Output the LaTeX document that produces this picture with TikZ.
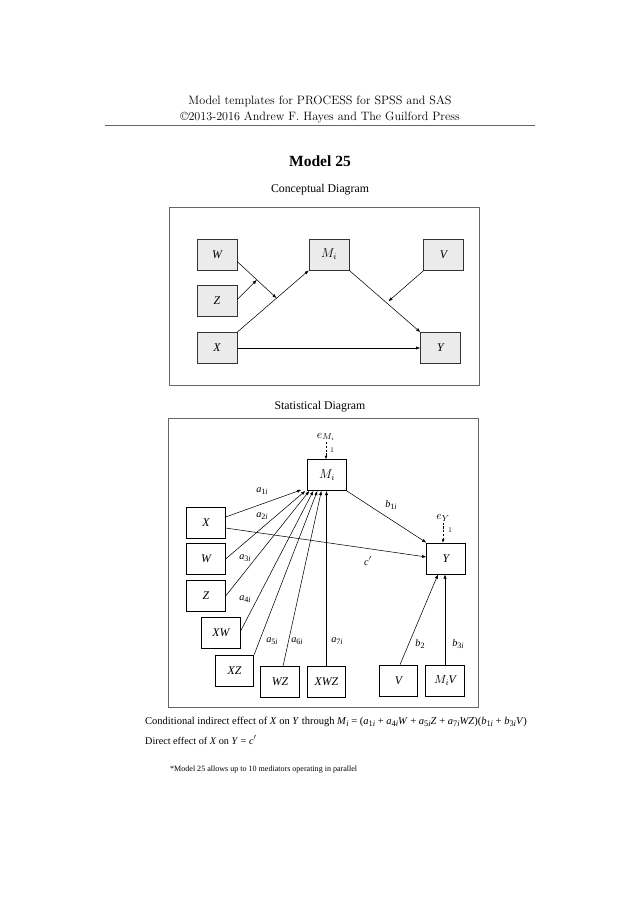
\documentclass[tikz,border=0pt]{standalone}
\usepackage{fontspec}
\usepackage{graphicx}
\newfontfamily\tnr{Liberation Serif}
\usetikzlibrary{arrows.meta,calc}
\newcommand{\iv}[2]{\textit{#1}\raisebox{-0.35ex}{\scalebox{0.8}{#2}}}
\begin{document}
\begin{tikzpicture}[x=0.9326pt,y=-0.9326pt,
  cbox/.style={draw=black!80,fill=black!8,line width=0.6pt,minimum width=37pt,minimum height=28.9pt,inner sep=0pt,font=\tnr\fontsize{11}{12}\selectfont\itshape},
  sbox/.style={draw=black,fill=white,line width=0.6pt,minimum width=36pt,minimum height=28.9pt,inner sep=0pt,font=\tnr\fontsize{11}{12}\selectfont\itshape},
  arr/.style={-{Latex[length=4pt,width=3pt]},line width=0.5pt},
  darr/.style={-{Latex[length=3pt,width=2.5pt]},line width=0.5pt,dash pattern=on 2pt off 1.5pt},
  lab/.style={font=\tnr\fontsize{9.5}{10}\selectfont,inner sep=0pt},
  frame/.style={draw=black!60,line width=0.6pt}]
\useasboundingbox (0,0) rectangle (638,902);
\fill[white] (0,0) rectangle (638,902);
% header
\node[font=\fontsize{11.3}{13}\selectfont,inner sep=0pt] (h1) at (320,101) {Model templates for PROCESS for SPSS and SAS};
\node[font=\fontsize{11.3}{13}\selectfont,inner sep=0pt] (h2) at (320,117) {\textcopyright 2013-2016 Andrew F. Hayes and The Guilford Press};
\draw[black!60,line width=0.5pt] (105,125) -- (535,125);
\node[font=\tnr\bfseries\fontsize{14.5}{17}\selectfont,inner sep=0pt] (title) at (320,161) {Model 25};
\node[font=\tnr\fontsize{11}{13}\selectfont,inner sep=0pt] (ctitle) at (320,190) {Conceptual Diagram};
% conceptual diagram
\draw[frame] (169,207) rectangle (479,385);
\node[cbox] (cW) at (217,254.5) {W};
\node[cbox] (cZ) at (217,300.5) {Z};
\node[cbox] (cX) at (217,348) {X};
\node[cbox,font=\fontsize{12}{13}\selectfont] (cM) at (329,254.5) {$M_i$};
\node[cbox] (cV) at (443.5,255) {V};
\node[cbox] (cY) at (440.5,348) {Y};
\draw[arr] (cX.north east) -- (cM.south west);
\coordinate (pXM) at ($(cX.north east)!0.55!(cM.south west)$);
\draw[arr] ($(cW.east)+(0,7)$) coordinate (wst) -- (pXM);
\coordinate (pW) at ($(wst)!0.5!(pXM)$);
\draw[arr] ($(cZ.east)+(0,-1)$) -- (pW);
\draw[arr] (cM.south east) -- (cY.north west);
\coordinate (pMY) at ($(cM.south east)!0.55!(cY.north west)$);
\draw[arr] (cV.south west) -- ($(pMY)+(0,-3)$);
\draw[arr] (cX.east) -- (cY.west);
% statistical diagram
\node[font=\tnr\fontsize{11}{13}\selectfont,inner sep=0pt] (stitle) at (320,407) {Statistical Diagram};
\draw[frame] (168,418) rectangle (478,707);
\node[sbox,font=\fontsize{12}{13}\selectfont] (sM) at (327,475) {$M_i$};
\node[sbox] (sX) at (206,523) {X};
\node[sbox] (sW) at (206,559) {W};
\node[sbox] (sZ) at (206,596) {Z};
\node[sbox] (sXW) at (221,633) {XW};
\node[sbox] (sXZ) at (234.5,670.5) {XZ};
\node[sbox] (sWZ) at (280,682) {WZ};
\node[sbox] (sXWZ) at (326.5,682) {XWZ};
\node[sbox] (sV) at (398.5,680.5) {V};
\node[sbox] (sMV) at (445,680.5) {$M_i$\kern-0.5pt V};
\node[sbox] (sY) at (446,558.5) {Y};
\node[font=\fontsize{11}{12}\selectfont,inner sep=0pt] (eM) at (326,437) {$e_{M_i}$};
\node[font=\fontsize{11}{12}\selectfont,inner sep=0pt] (eY) at (443,518) {$e_Y$};
\draw[darr] ($(eM.south)+(0,1)$) -- (eM.south |- sM.north);
\draw[darr] ($(eY.south)+(0,1)$) -- (eY.south |- sY.north);
\node[font=\fontsize{6.5}{7}\selectfont,inner sep=0pt] (oneM) at (332,450) {1};
\node[font=\fontsize{6.5}{7}\selectfont,inner sep=0pt] (oneY) at (450,530) {1};
% arrows into M
\coordinate (t1) at ($(sM.south west)+(-6,-1)$);
\coordinate (t2) at ($(sM.south west)+(-2,0)$);
\coordinate (t3) at ($(sM.south west)+(2,0)$);
\coordinate (t4) at ($(sM.south west)+(6,0)$);
\coordinate (t5) at ($(sM.south west)+(10,0)$);
\coordinate (t6) at ($(sM.south west)+(14,0)$);
\coordinate (t7) at ($(sM.south west)+(18,0)$);
\draw[arr] ($(sX.east)+(0,-6)$) -- (t1);
\draw[arr] (sW.east) -- (t2);
\draw[arr] (sZ.east) -- (t3);
\draw[arr] ($(sXW.east)+(0,-2)$) -- (t4);
\draw[arr] (sXZ.north east) -- (t5);
\draw[arr] ($(sWZ.north)+(3,0)$) -- (t6);
\draw[arr] (sXWZ.north) -- (sXWZ.north |- t7);
\draw[arr] (sM.south east) -- (sY.north west);
\draw[arr] ($(sX.east)+(0,5)$) -- ($(sY.west)+(0,-1.5)$);
\draw[arr] ($(sV.north)+(1.5,0)$) -- ($(sY.south)+(-8,0)$);
\draw[arr] (sMV.north) -- (sMV.north |- sY.south);
% labels
\node[lab] (la1) at (262,491) {\iv{a}{1\textit{i}}};
\node[lab] (la2) at (262,516) {\iv{a}{2\textit{i}}};
\node[lab] (la3) at (245,558) {\iv{a}{3\textit{i}}};
\node[lab] (la4) at (245,599) {\iv{a}{4\textit{i}}};
\node[lab] (la5) at (272,641) {\iv{a}{5\textit{i}}};
\node[lab] (la6) at (297,641) {\iv{a}{6\textit{i}}};
\node[lab] (la7) at (337,641) {\iv{a}{7\textit{i}}};
\node[lab] (lb1) at (391,505) {\iv{b}{1\textit{i}}};
\node[lab] (lc) at (368,561) {\textit{c}$'$};
\node[lab] (lb2) at (420,644) {\iv{b}{2}};
\node[lab] (lb3) at (458,644) {\iv{b}{3\textit{i}}};
% bottom text
\node[anchor=west,inner sep=0pt,font=\tnr\fontsize{9.8}{11}\selectfont] (f1) at (145,722) {Conditional indirect effect of \textit{X} on \textit{Y} through \iv{M}{\textit{i}} = (\iv{a}{1\textit{i}} + \iv{a}{4\textit{i}}\textit{W} + \iv{a}{5\textit{i}}\textit{Z} + \iv{a}{7\textit{i}}\textit{WZ})(\iv{b}{1\textit{i}} + \iv{b}{3\textit{i}}\textit{V})};
\node[anchor=west,inner sep=0pt,font=\tnr\fontsize{9.5}{11}\selectfont] (f2) at (145,740) {Direct effect of \textit{X} on \textit{Y} = \textit{c}$'$};
\node[anchor=west,inner sep=0pt,font=\tnr\fontsize{7.5}{9}\selectfont] (f3) at (170,770) {*Model 25 allows up to 10 mediators operating in parallel};
\end{tikzpicture}
\end{document}
